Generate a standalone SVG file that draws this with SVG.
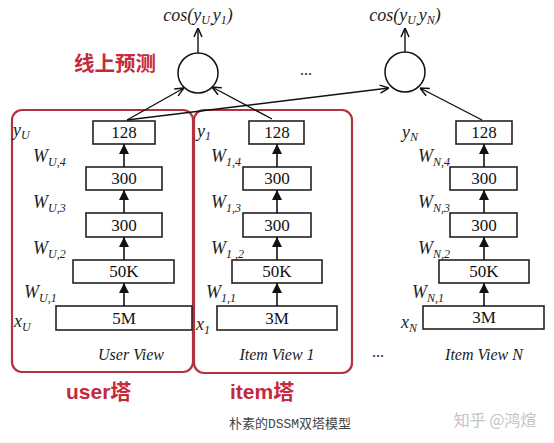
<svg xmlns="http://www.w3.org/2000/svg" width="554" height="443" viewBox="0 0 554 443">
<defs>
<marker id="fill" viewBox="0 0 10 10" refX="10" refY="5" markerWidth="10" markerHeight="10" markerUnits="userSpaceOnUse" orient="auto">
<path d="M0,0 L10,5 L0,10 Z" fill="#111"/>
</marker>
<marker id="open" viewBox="0 0 10 10" refX="10" refY="5" markerWidth="10" markerHeight="10" markerUnits="userSpaceOnUse" orient="auto">
<path d="M1,1 L10,5 L1,9" fill="none" stroke="#111" stroke-width="1.5"/>
</marker>
<style>
.box{fill:#fff;stroke:#222;stroke-width:1.6}
.tower{fill:none;stroke:#b3323f;stroke-width:2.2}
.num{font-family:"Liberation Serif",serif;font-size:17px;fill:#111;text-anchor:middle}
.lab{font-family:"Liberation Serif",serif;font-style:italic;font-size:18px;fill:#222}
.sub{font-size:12px}
.view{font-family:"Liberation Serif",serif;font-style:italic;font-size:16px;fill:#222;text-anchor:middle}
.red{font-family:"Liberation Sans","Noto Sans CJK SC",sans-serif;font-weight:bold;fill:#c42a3c}
.arr{stroke:#111;stroke-width:1.6;fill:none;marker-end:url(#fill)}
.con{stroke:#111;stroke-width:1.4;fill:none;marker-end:url(#open)}
.circ{fill:#fff;stroke:#111;stroke-width:1.5}
</style>
</defs>
<rect width="554" height="443" fill="#fff"/>

<g id="user-tower">
<rect class="tower" x="12" y="110" width="181" height="262" rx="10"/>
<rect class="box" x="93" y="121" width="62" height="23"/><text class="num" x="124" y="138">128</text>
<rect class="box" x="86" y="167" width="76" height="23"/><text class="num" x="124" y="184">300</text>
<rect class="box" x="86" y="213" width="76" height="24"/><text class="num" x="124" y="231">300</text>
<rect class="box" x="73" y="260" width="101" height="23"/><text class="num" x="124" y="277">50K</text>
<rect class="box" x="56" y="306" width="136" height="24"/><text class="num" x="124" y="324">5M</text>
<text class="lab" x="13" y="136">y<tspan class="sub" dy="3">U</tspan></text>
<text class="lab" x="33" y="162">W<tspan class="sub" dy="4">U,4</tspan></text>
<text class="lab" x="33" y="208">W<tspan class="sub" dy="4">U,3</tspan></text>
<text class="lab" x="33" y="254">W<tspan class="sub" dy="4">U,2</tspan></text>
<text class="lab" x="24" y="298">W<tspan class="sub" dy="4">U,1</tspan></text>
<text class="lab" x="14" y="327">x<tspan class="sub" dy="4">U</tspan></text>
<text class="view" x="131" y="360">User View</text>
</g>

<g id="item-tower-1">
<rect class="tower" x="194" y="110" width="158" height="263" rx="10"/>
<rect class="box" x="249" y="121" width="55" height="23"/><text class="num" x="277" y="138">128</text>
<rect class="box" x="243" y="167" width="68" height="23"/><text class="num" x="277" y="184">300</text>
<rect class="box" x="243" y="213" width="68" height="24"/><text class="num" x="277" y="231">300</text>
<rect class="box" x="232" y="260" width="90" height="23"/><text class="num" x="277" y="277">50K</text>
<rect class="box" x="217" y="306" width="120" height="24"/><text class="num" x="277" y="324">3M</text>
<text class="lab" x="197" y="137">y<tspan class="sub" dy="3">1</tspan></text>
<text class="lab" x="211" y="162">W<tspan class="sub" dy="4">1,4</tspan></text>
<text class="lab" x="211" y="208">W<tspan class="sub" dy="4">1,3</tspan></text>
<text class="lab" x="211" y="254">W<tspan class="sub" dy="4">1 ,2</tspan></text>
<text class="lab" x="206" y="298">W<tspan class="sub" dy="4">1,1</tspan></text>
<text class="lab" x="196" y="330">x<tspan class="sub" dy="4">1</tspan></text>
<text class="view" x="277" y="360">Item View 1</text>
</g>

<g id="item-tower-N">
<rect class="box" x="456" y="121" width="56" height="23"/><text class="num" x="484" y="138">128</text>
<rect class="box" x="450" y="167" width="67" height="23"/><text class="num" x="484" y="184">300</text>
<rect class="box" x="450" y="213" width="67" height="24"/><text class="num" x="484" y="231">300</text>
<rect class="box" x="439" y="260" width="90" height="23"/><text class="num" x="484" y="277">50K</text>
<rect class="box" x="423" y="306" width="121" height="23"/><text class="num" x="484" y="323">3M</text>
<text class="lab" x="402" y="138">y<tspan class="sub" dy="3">N</tspan></text>
<text class="lab" x="418" y="162">W<tspan class="sub" dy="4">N,4</tspan></text>
<text class="lab" x="418" y="208">W<tspan class="sub" dy="4">N,3</tspan></text>
<text class="lab" x="418" y="254">W<tspan class="sub" dy="4">N,2</tspan></text>
<text class="lab" x="412" y="298">W<tspan class="sub" dy="4">N,1</tspan></text>
<text class="lab" x="401" y="328">x<tspan class="sub" dy="4">N</tspan></text>
<text class="view" x="484" y="360">Item View N</text>
</g>

<g id="cos-1">
<circle class="circ" cx="198" cy="73" r="20"/>
<text class="lab" x="198" y="21" text-anchor="middle" font-size="17">cos(y<tspan class="sub" dy="3">U,</tspan><tspan dy="-3">y</tspan><tspan class="sub" dy="3">1</tspan><tspan dy="-3">)</tspan></text>
</g>
<g id="cos-N">
<circle class="circ" cx="405" cy="72" r="20"/>
<text class="lab" x="405" y="21" text-anchor="middle" font-size="17">cos(y<tspan class="sub" dy="3">U,</tspan><tspan dy="-3">y</tspan><tspan class="sub" dy="3">N</tspan><tspan dy="-3">)</tspan></text>
</g>

<g id="connectors">
<line class="arr" x1="124" y1="306" x2="124" y2="283"/>
<line class="arr" x1="124" y1="260" x2="124" y2="237"/>
<line class="arr" x1="124" y1="213" x2="124" y2="190"/>
<line class="arr" x1="124" y1="167" x2="124" y2="144"/>
<line class="arr" x1="277" y1="306" x2="277" y2="283"/>
<line class="arr" x1="277" y1="260" x2="277" y2="237"/>
<line class="arr" x1="277" y1="213" x2="277" y2="190"/>
<line class="arr" x1="277" y1="167" x2="277" y2="144"/>
<line class="arr" x1="484" y1="306" x2="484" y2="283"/>
<line class="arr" x1="484" y1="260" x2="484" y2="237"/>
<line class="arr" x1="484" y1="213" x2="484" y2="190"/>
<line class="arr" x1="484" y1="167" x2="484" y2="144"/>
<line class="con" x1="127" y1="120" x2="184" y2="88"/>
<line class="con" x1="127" y1="120" x2="389" y2="88"/>
<line class="con" x1="272" y1="119" x2="212" y2="87"/>
<line class="con" x1="482" y1="120" x2="420" y2="88"/>
<line class="con" x1="198" y1="53" x2="198" y2="28"/>
<line class="con" x1="405" y1="52" x2="405" y2="28"/>
</g>

<text x="306" y="75" font-family="Liberation Serif,serif" font-size="16" fill="#222" text-anchor="middle">...</text>
<text x="378" y="357" font-family="Liberation Serif,serif" font-size="16" fill="#222" text-anchor="middle">...</text>

<text class="red" x="74" y="71" font-size="20.5">线上预测</text>
<text class="red" x="66" y="399" font-size="21">user塔</text>
<text class="red" x="230" y="399" font-size="21">item塔</text>
<text x="290" y="428" font-family="'Liberation Mono','Noto Sans CJK SC',monospace" font-size="13" fill="#444" text-anchor="middle">朴素的DSSM双塔模型</text>
<text x="495" y="426" font-family="'Noto Sans CJK SC',sans-serif" font-size="16" fill="#c4c4c4" text-anchor="middle">知乎 @鸿煊</text>
</svg>
